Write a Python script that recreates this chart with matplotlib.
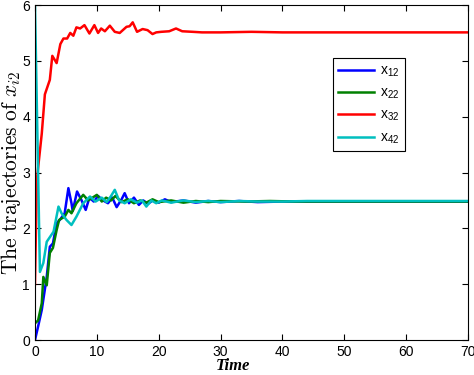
import matplotlib
matplotlib.use("Agg")
import matplotlib.pyplot as plt

# trajectories (time, value)
t_x12 = [0, 0.5, 1.1, 1.9, 2.4, 2.9, 3.5, 4.0, 4.8, 5.4, 5.9, 6.1, 6.8, 7.5, 8.2, 8.8,
         9.5, 10.2, 11.0, 11.8, 12.5, 13.2, 14.0, 14.5, 15.2, 16.0, 16.8, 17.5, 18.3,
         19.0, 20.0, 21.0, 22.0, 24.0, 26.0, 28.0, 30.0, 33.0, 36.0, 40.0, 45.0, 70.0]
x12 = [0.0, 0.24, 0.54, 1.13, 1.67, 1.73, 2.09, 2.15, 2.27, 2.72, 2.45, 2.31, 2.66, 2.51,
       2.33, 2.55, 2.48, 2.58, 2.50, 2.45, 2.55, 2.38, 2.52, 2.63, 2.45, 2.55, 2.42,
       2.50, 2.44, 2.50, 2.46, 2.52, 2.47, 2.50, 2.46, 2.49, 2.47, 2.49, 2.47, 2.48,
       2.48, 2.48]

t_x22 = [0, 0.5, 1.1, 1.35, 1.9, 2.4, 2.9, 3.5, 3.9, 4.8, 5.4, 5.9, 6.7, 7.8, 8.6, 9.3,
         10.0, 10.8, 11.5, 12.3, 13.0, 14.0, 15.0, 16.0, 17.0, 18.0, 19.0, 20.0, 22.0,
         24.0, 26.0, 28.0, 30.0, 34.0, 38.0, 42.0, 70.0]
x22 = [0.30, 0.35, 0.66, 1.13, 0.98, 1.56, 1.65, 1.97, 2.15, 2.21, 2.33, 2.27, 2.45, 2.60,
       2.50, 2.55, 2.60, 2.48, 2.55, 2.50, 2.58, 2.47, 2.52, 2.45, 2.50, 2.46, 2.52,
       2.47, 2.50, 2.46, 2.49, 2.47, 2.49, 2.48, 2.49, 2.48, 2.48]

t_x32 = [0, 0.3, 1.1, 1.6, 2.4, 2.8, 3.5, 4.1, 4.6, 5.2, 5.7, 6.2, 6.7, 7.3, 8.0, 8.8,
         9.6, 10.2, 10.7, 11.3, 12.1, 12.9, 13.7, 14.8, 15.3, 15.8, 16.5, 17.4, 18.2,
         19.0, 19.6, 20.4, 21.7, 22.8, 23.8, 25.5, 27.0, 30.0, 35.0, 40.0, 70.0]
x32 = [1.0, 2.87, 3.70, 4.40, 4.66, 5.09, 4.96, 5.30, 5.40, 5.40, 5.50, 5.45, 5.60, 5.58,
       5.64, 5.49, 5.64, 5.50, 5.58, 5.53, 5.63, 5.52, 5.50, 5.61, 5.62, 5.69, 5.52,
       5.57, 5.55, 5.48, 5.51, 5.52, 5.53, 5.58, 5.53, 5.52, 5.51, 5.51, 5.52, 5.51,
       5.51]

t_x42 = [0, 0.8, 1.35, 1.9, 3.0, 3.8, 4.3, 5.1, 5.9, 6.7, 7.8, 8.9, 9.8, 10.8, 11.6,
         12.3, 12.9, 13.6, 14.5, 15.5, 16.5, 17.3, 18.0, 18.8, 19.6, 20.5, 22.0, 24.0,
         26.0, 28.0, 30.0, 33.0, 36.0, 40.0, 44.0, 70.0]
x42 = [6.0, 1.22, 1.38, 1.76, 1.94, 2.39, 2.27, 2.15, 2.06, 2.21, 2.45, 2.57, 2.48, 2.55,
       2.47, 2.58, 2.69, 2.50, 2.45, 2.52, 2.46, 2.50, 2.39, 2.50, 2.45, 2.50, 2.46,
       2.50, 2.47, 2.49, 2.47, 2.49, 2.48, 2.48, 2.49, 2.49]

series = [
    (t_x12, x12, (0, 0, 1), r"x$_{\mathregular{12}}$"),
    (t_x22, x22, (0, 0.5, 0), r"x$_{\mathregular{22}}$"),
    (t_x32, x32, (1, 0, 0), r"x$_{\mathregular{32}}$"),
    (t_x42, x42, (0, 0.75, 0.75), r"x$_{\mathregular{42}}$"),
]

plt.rcParams["mathtext.fontset"] = "cm"
plt.rcParams["font.family"] = ["Liberation Sans", "DejaVu Sans"]

fig = plt.figure(figsize=(4.74, 3.75), dpi=100)
ax = fig.add_axes([0.0738, 0.0933, 0.9135, 0.8933])

for t, x, c, lab in series:
    ax.plot(t, x, color=c, linewidth=1.8, label=lab)

ax.set_xlim(0, 70)
ax.set_ylim(0, 6)
ax.set_xticks(range(0, 71, 10))
ax.set_yticks(range(0, 7))
ax.tick_params(direction="in", top=True, right=True, labelsize=10, length=4)

ax.set_xlabel("Time", fontfamily="Liberation Serif", fontweight="bold",
              fontstyle="italic", fontsize=12)
ax.xaxis.set_label_coords(0.457, -0.055)
ax.set_ylabel(r"$\mathrm{The\ trajectories\ of}\ x_{i2}$", fontsize=15.5)
ax.yaxis.set_label_coords(-0.027, 0.5)

leg = ax.legend(loc="upper right", bbox_to_anchor=(0.855, 0.842), fancybox=False,
                framealpha=1, edgecolor="black", fontsize=10, handlelength=2.6,
                handletextpad=0.4, labelspacing=0.5, borderpad=0.4,
                borderaxespad=0)
leg.get_frame().set_linewidth(0.8)

fig.savefig("out.png", dpi=100)
